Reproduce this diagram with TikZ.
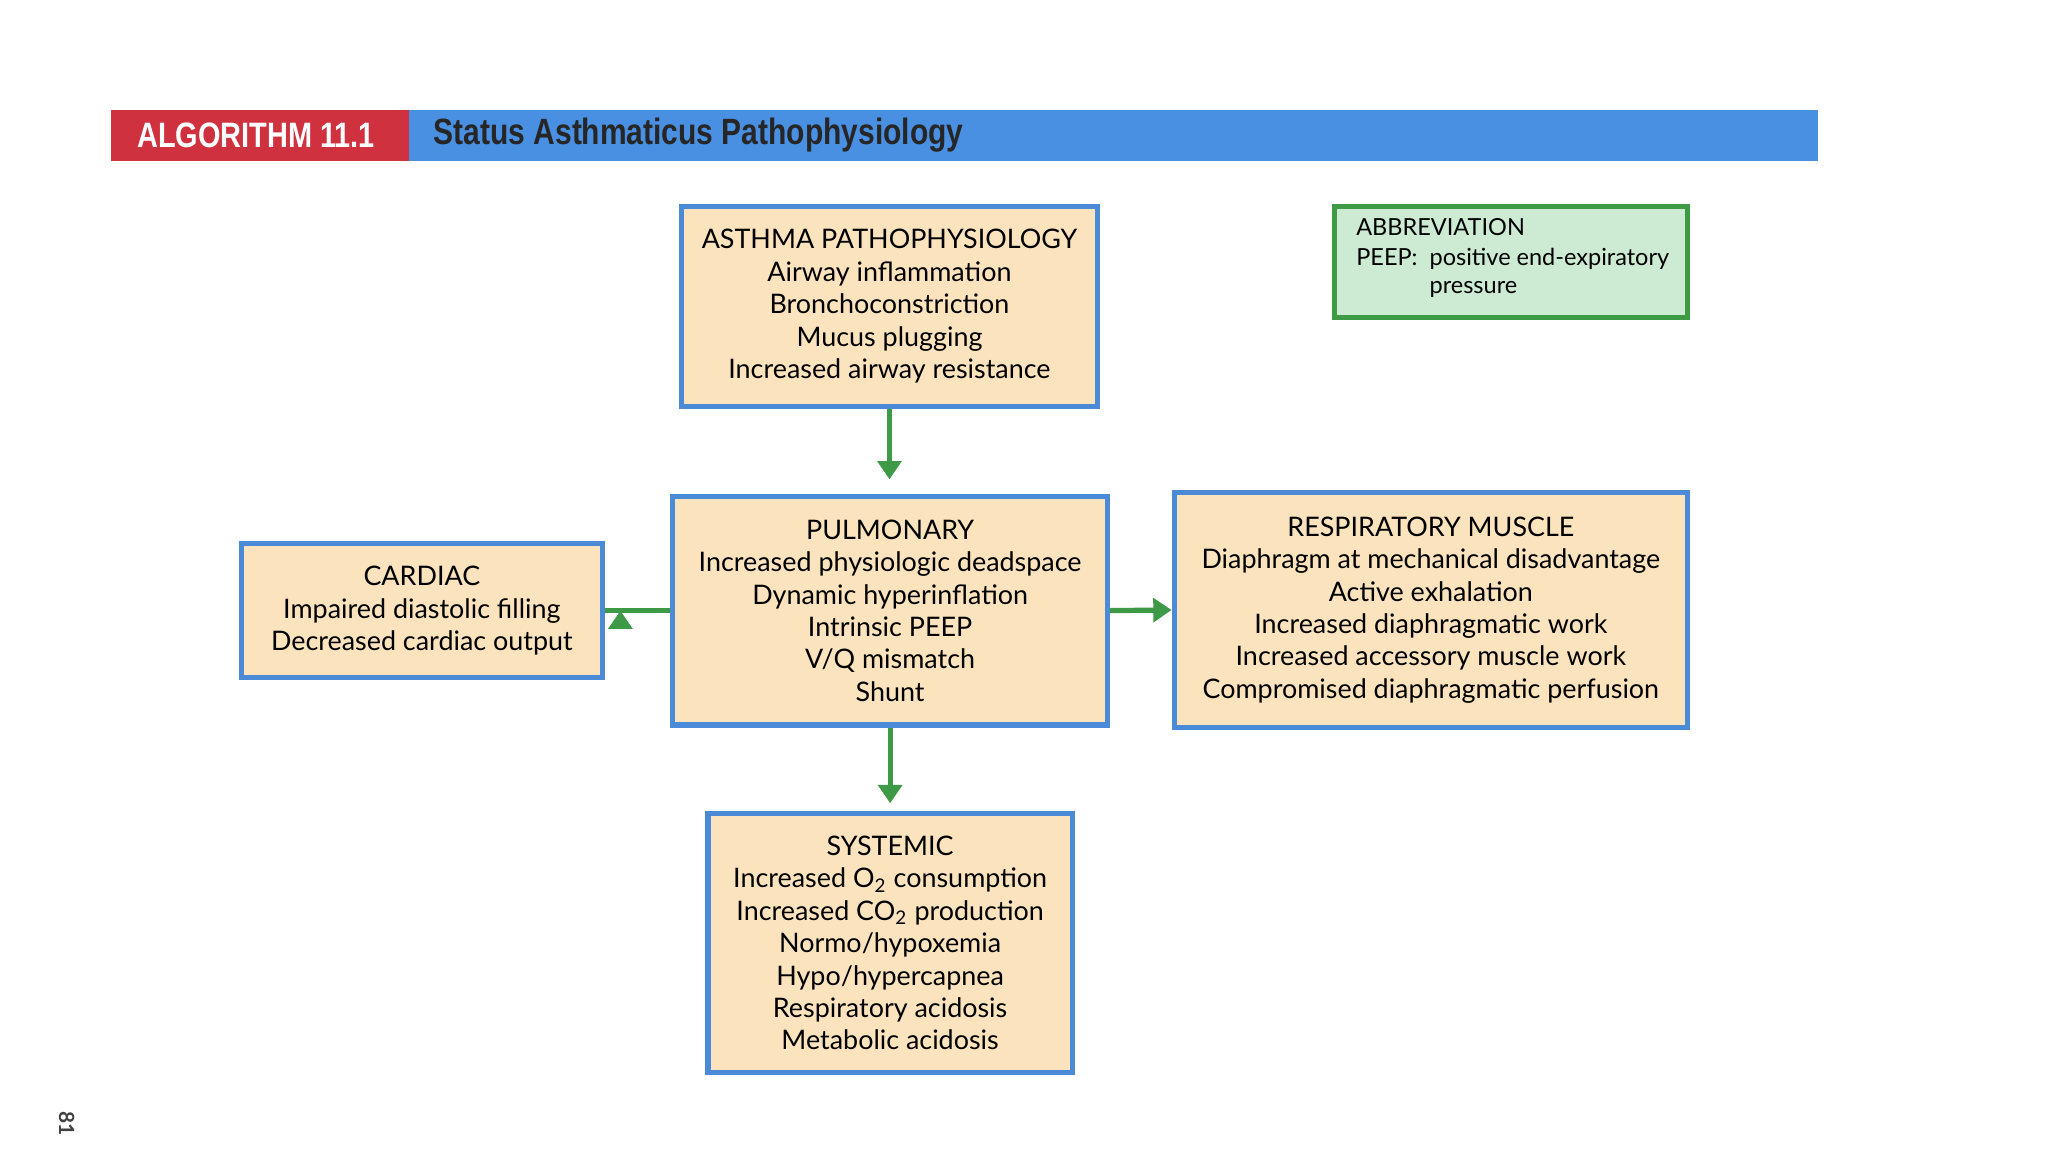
\documentclass[tikz,border=0pt]{standalone}
\usepackage{fontspec}
\setmainfont{Lato}
\newfontfamily\hdfont[FakeStretch=0.82]{Liberation Sans}
\usetikzlibrary{arrows.meta}
\definecolor{boxfill}{HTML}{FBE3BD}
\definecolor{boxline}{HTML}{4A8AD6}
\definecolor{arr}{HTML}{3F9A48}
\definecolor{hred}{HTML}{D0313E}
\definecolor{hblue}{HTML}{4A90E2}
\definecolor{abfill}{HTML}{CDEBD2}
\definecolor{abline}{HTML}{3E9A45}
\tikzset{
 px/.style={x=0.5pt,y=-0.5pt},
 bx/.style={draw=boxline,line width=2pt,fill=boxfill,align=center,inner sep=0pt,font=\fontsize{10.3}{12.4}\selectfont},
 ar/.style={draw=arr,line width=2pt,-{Triangle[length=7pt,width=9pt]}}
}
\begin{document}
\begin{tikzpicture}[px]
\useasboundingbox (0,0) rectangle (1568,882);
\fill[white] (0,0) rectangle (1568,882);
\fill[hred] (85,84) rectangle (313,123);
\fill[hblue] (313,84) rectangle (1392,123);
\node[anchor=west,text=white,font=\hdfont\bfseries\fontsize{13.5}{15}\selectfont] (h1) at (98,103.5) {ALGORITHM 11.1};
\node[anchor=west,text=black!85,font=\hdfont\bfseries\fontsize{14}{15}\selectfont] (h2) at (325,103.5) {Status Asthmaticus Pathophysiology};
\node[bx,minimum width=159pt,minimum height=76.5pt] (asth) at (681,234.5) {ASTHMA PATHOPHYSIOLOGY\\Airway inflammation\\Bronchoconstriction\\Mucus plugging\\Increased airway resistance};
\node[bx,minimum width=166.5pt,minimum height=87.5pt] (pulm) at (681.5,467.5) {PULMONARY\\Increased physiologic deadspace\\Dynamic hyperinflation\\Intrinsic PEEP\\V/Q mismatch\\Shunt};
\node[bx,minimum width=138pt,minimum height=51.5pt] (card) at (323,467.5) {CARDIAC\\Impaired diastolic filling\\Decreased cardiac output};
\node[bx,minimum width=196.5pt,minimum height=90pt] (resp) at (1095.5,467) {RESPIRATORY MUSCLE\\Diaphragm at mechanical disadvantage\\Active exhalation\\Increased diaphragmatic work\\Increased accessory muscle work\\Compromised diaphragmatic perfusion};
\node[bx,minimum width=139.5pt,minimum height=99pt] (sys) at (681.5,722) {SYSTEMIC\\Increased O\textsubscript{2} consumption\\Increased CO\textsubscript{2} production\\Normo/hypoxemia\\Hypo/hypercapnea\\Respiratory acidosis\\Metabolic acidosis};
\node[draw=abline,line width=2pt,fill=abfill,minimum width=135pt,minimum height=42.5pt,inner sep=0pt] (abb) at (1157,200.5) {};
\node[anchor=north west,align=left,inner sep=0pt,font=\fontsize{9}{10.5}\selectfont] (abt) at (1038,167) {ABBREVIATION\\[1pt]
PEEP:\ \ positive end-expiratory\\\hphantom{PEEP:\ \ }pressure};
\draw[ar] (asth.south) -- ++(0,-27pt);
\draw[ar] (pulm.south) -- ++(0,-29pt);
\draw[ar] (pulm.west) -- (card.east) ++(6pt,0);
\draw[ar] (pulm.east) -- (resp.west);
\node[rotate=-90,font=\fontsize{8}{9}\selectfont\bfseries,text=black!75] (pg) at (51,860) {81};
\end{tikzpicture}
\end{document}
